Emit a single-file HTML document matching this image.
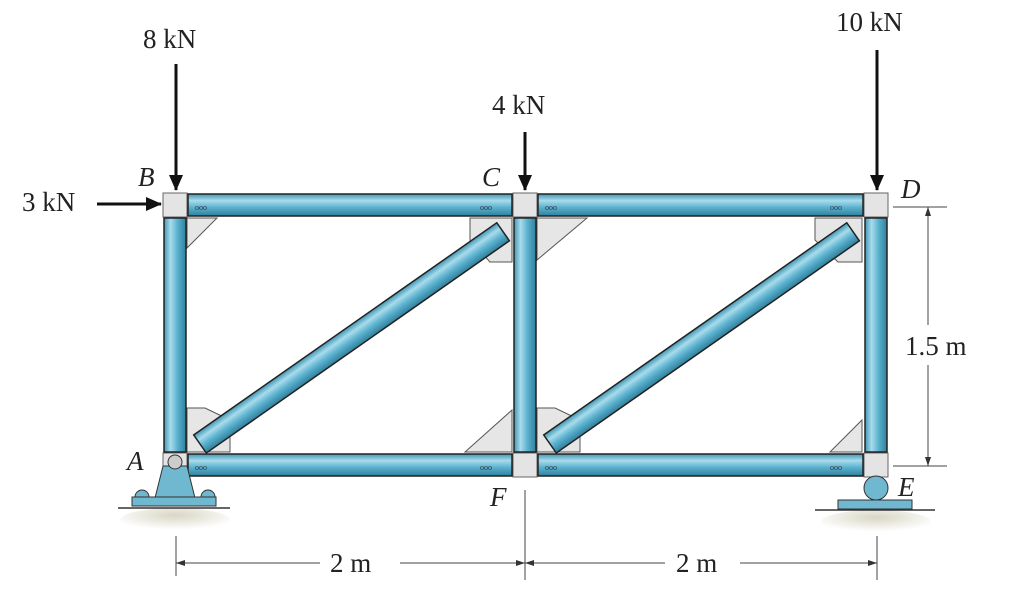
<!DOCTYPE html>
<html><head><style>
html,body{margin:0;padding:0;background:#fff;}
svg{display:block}
text{font-family:"Liberation Serif",serif;fill:#222}
</style></head><body>
<svg width="1024" height="616" viewBox="0 0 1024 616" xmlns="http://www.w3.org/2000/svg">
<defs>
<linearGradient id="gh" x1="0" y1="0" x2="0" y2="1">
<stop offset="0" stop-color="#3f97b5"/><stop offset="0.3" stop-color="#a9dcec"/><stop offset="0.6" stop-color="#5cb3d0"/><stop offset="1" stop-color="#2f7f9c"/></linearGradient>
<linearGradient id="gv" x1="0" y1="0" x2="1" y2="0">
<stop offset="0" stop-color="#3f97b5"/><stop offset="0.3" stop-color="#a9dcec"/><stop offset="0.6" stop-color="#5cb3d0"/><stop offset="1" stop-color="#2f7f9c"/></linearGradient>
<radialGradient id="sh" cx="0.5" cy="0.3" r="0.6"><stop offset="0" stop-color="#d8d6c4"/><stop offset="1" stop-color="#fff"/></radialGradient>
<marker id="ar" markerWidth="16" markerHeight="14" refX="15" refY="7" orient="auto" markerUnits="userSpaceOnUse"><path d="M0,0 L16,7 L0,14 Z" fill="#111"/></marker>
</defs>

<g fill="#e6e6e6" stroke="#555" stroke-width="1">
<path d="M187,218 L217,218 L187,248 Z"/>
<path d="M537,218 L587,218 L537,260 Z"/>
<path d="M512,218 L470,218 L470,240 L490,262 L512,262 Z"/>
<path d="M862,218 L815,218 L815,240 L838,262 L862,262 Z"/>
<path d="M187,452 L230,452 L230,420 L205,408 L187,408 Z"/>
<path d="M537,452 L580,452 L580,420 L555,408 L537,408 Z"/>
<path d="M512,452 L465,452 L512,410 Z"/>
<path d="M862,452 L830,452 L862,420 Z"/>
</g>
<g fill="#e4e4e4" stroke="#666" stroke-width="1">
<rect x="163" y="193" width="24" height="24"/><rect x="513" y="193" width="24" height="24"/><rect x="864" y="193" width="24" height="24"/>
<rect x="163" y="453" width="24" height="24"/><rect x="513" y="453" width="24" height="24"/><rect x="864" y="453" width="24" height="24"/>
</g>
<g stroke="#222" stroke-width="1.5" fill="url(#gh)">
<rect x="188" y="194" width="324" height="22"/><rect x="538" y="194" width="325" height="22"/>
<rect x="188" y="454" width="324" height="22"/><rect x="538" y="454" width="325" height="22"/>
</g>
<g stroke="#222" stroke-width="1.5" fill="url(#gv)">
<rect x="164" y="218" width="22" height="234"/><rect x="514" y="218" width="22" height="234"/><rect x="865" y="218" width="22" height="234"/>
</g>
<g stroke="#222" stroke-width="1.5" fill="url(#gh)">
<g transform="translate(200,444) rotate(-35)"><rect x="0" y="-11" width="370" height="22"/></g>
<g transform="translate(550,444) rotate(-35)"><rect x="0" y="-11" width="370" height="22"/></g>
</g>
<g>
<text x="195" y="210" font-size="8" style="fill:#334">ooo</text>
<text x="480" y="210" font-size="8" style="fill:#334">ooo</text>
<text x="545" y="210" font-size="8" style="fill:#334">ooo</text>
<text x="830" y="210" font-size="8" style="fill:#334">ooo</text>
<text x="195" y="470" font-size="8" style="fill:#334">ooo</text>
<text x="480" y="470" font-size="8" style="fill:#334">ooo</text>
<text x="545" y="470" font-size="8" style="fill:#334">ooo</text>
<text x="830" y="470" font-size="8" style="fill:#334">ooo</text>
</g>
<ellipse cx="175" cy="520" rx="55" ry="12" fill="url(#sh)"/>
<path d="M163,466 L187,466 L195,498 L155,498 Z" fill="#6fb8d0" stroke="#333"/>
<circle cx="142" cy="497" r="7" fill="#6fb8d0" stroke="#333"/><circle cx="208" cy="497" r="7" fill="#6fb8d0" stroke="#333"/>
<rect x="132" y="497" width="84" height="9" fill="#6fb8d0" stroke="#333"/>
<line x1="118" y1="508" x2="230" y2="508" stroke="#333" stroke-width="1.5"/>
<circle cx="175" cy="462" r="7" fill="#ccc" stroke="#333"/>
<ellipse cx="876" cy="522" rx="55" ry="12" fill="url(#sh)"/>
<circle cx="876" cy="488" r="12" fill="#6fb8d0" stroke="#333"/>
<rect x="838" y="500" width="74" height="9" fill="#6fb8d0" stroke="#333"/>
<line x1="815" y1="510" x2="935" y2="510" stroke="#333" stroke-width="1.5"/>
<g stroke="#111" stroke-width="3" marker-end="url(#ar)">
<line x1="176" y1="64" x2="176" y2="190"/>
<line x1="877" y1="50" x2="877" y2="190"/>
<line x1="525" y1="132" x2="525" y2="190"/>
<line x1="97" y1="204" x2="161" y2="204"/>
</g>
<g font-size="27">
<text x="143" y="48">8 kN</text>
<text x="836" y="31">10 kN</text>
<text x="492" y="114">4 kN</text>
<text x="22" y="211">3 kN</text>
</g>
<g font-size="27" font-style="italic">
<text x="138" y="186">B</text><text x="482" y="186">C</text><text x="901" y="198">D</text>
<text x="127" y="470">A</text><text x="490" y="506">F</text><text x="898" y="496">E</text>
</g>
<g stroke="#444" stroke-width="1" fill="none">
<line x1="176" y1="536" x2="176" y2="576"/><line x1="525" y1="490" x2="525" y2="580"/><line x1="877" y1="536" x2="877" y2="580"/>
<line x1="176" y1="563" x2="320" y2="563"/><line x1="400" y1="563" x2="525" y2="563"/>
<line x1="525" y1="563" x2="665" y2="563"/><line x1="740" y1="563" x2="877" y2="563"/>
<line x1="893" y1="207" x2="947" y2="207"/><line x1="893" y1="466" x2="947" y2="466"/>
<line x1="928" y1="207" x2="928" y2="325"/><line x1="928" y1="365" x2="928" y2="466"/>
</g>
<g fill="#333">
<path d="M176,563 l9,-3 v6 z"/><path d="M525,563 l-9,-3 v6 z"/><path d="M525,563 l9,-3 v6 z"/><path d="M877,563 l-9,-3 v6 z"/>
<path d="M928,207 l-3,9 h6 z"/><path d="M928,466 l-3,-9 h6 z"/>
</g>
<g font-size="27">
<text x="330" y="572">2 m</text><text x="676" y="572">2 m</text><text x="905" y="355">1.5 m</text>
</g>
</svg>
</body></html>
